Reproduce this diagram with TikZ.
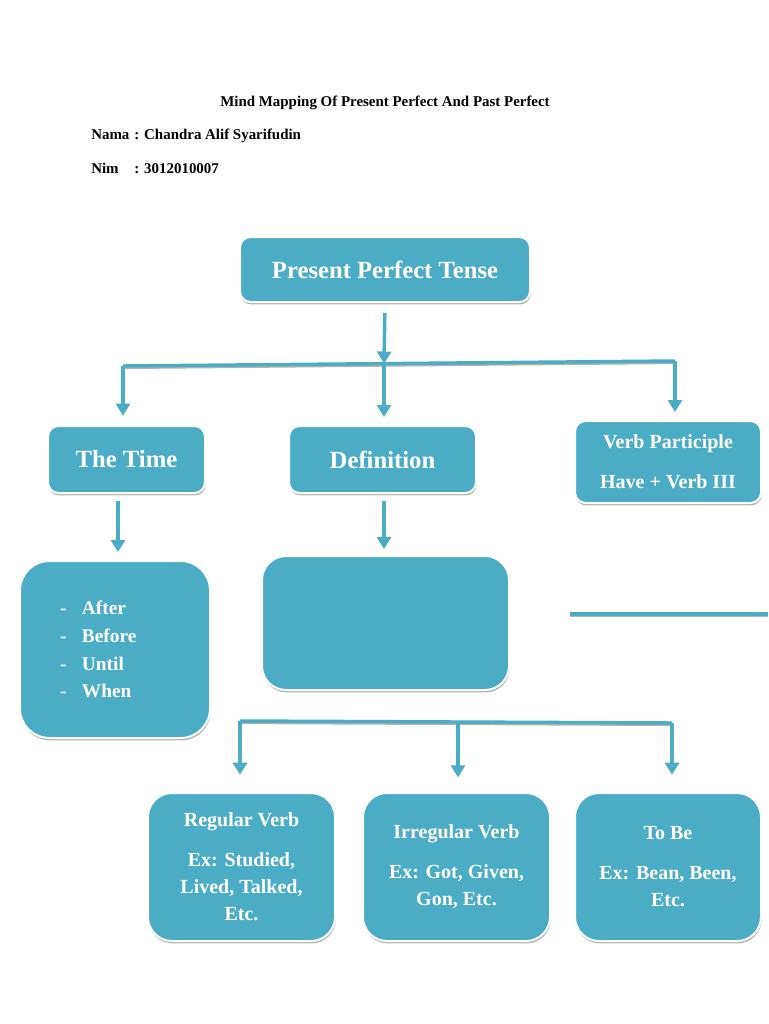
\documentclass[tikz,border=0pt]{standalone}
\usepackage{fontspec}
\setmainfont{Liberation Serif}
\definecolor{aqua}{RGB}{75,172,198}
\usepackage{tikz}
\usetikzlibrary{shadows, arrows.meta}
\newdimen\pxu \pxu=0.75pt
\newcommand{\dashitem}[1]{\hspace*{30pt}\makebox[16.5pt][l]{-}#1}

\tikzset{
  box/.style={draw=white, line width=1.5pt, fill=aqua, text=white, rounded corners=8pt,
    inner sep=0pt, align=center,
    drop shadow={shadow xshift=0.5pt, shadow yshift=-1.8pt, fill=black!60, opacity=0.5}},
  bigtext/.style={font=\fontsize{18.5}{22}\selectfont\bfseries},
  smalltext/.style={font=\fontsize{15}{20.25}\selectfont\bfseries},
  bar/.style={draw=aqua, line width=2.6pt,
    preaction={draw=black!30, line width=2.6pt, transform canvas={yshift=-1pt}}},
  arr/.style={draw=aqua, line width=2.6pt, -{Triangle[width=10.5pt,length=9pt]}},
  head/.style={font=\fontsize{11.2}{13}\selectfont\bfseries, inner sep=0pt}
}

\begin{document}
\begin{tikzpicture}[x=0.75pt, y=-0.75pt]
  % Page
  \fill[white] (0,0) rectangle (768,1024);
  \useasboundingbox (0,0) rectangle (768,1024);

  % Heading
  \node[head, anchor=base] (title) at (385,107) {Mind Mapping Of Present Perfect And Past Perfect};
  \node[head, anchor=base west] (nama) at (91,139) {Nama};
  \node[head, anchor=base west] (namav) at (134,139) {: Chandra Alif Syarifudin};
  \node[head, anchor=base west] (nim) at (91,173) {Nim};
  \node[head, anchor=base west] (nimv) at (134,173) {: 3012010007};

  % Boxes
  \node[box, bigtext, minimum width=290\pxu, minimum height=65\pxu] (ppt) at (385,269.5) {Present Perfect Tense};
  \node[box, bigtext, minimum width=157\pxu, minimum height=67\pxu] (time) at (126.5,459.5) {The Time};
  \node[box, bigtext, minimum width=187\pxu, minimum height=67\pxu] (def) at (382.5,459.5) {Definition};
  \node[box, smalltext, minimum width=186\pxu, minimum height=82\pxu] (vp) at (668,462) {Verb Participle\\[9.75pt] Have + Verb III};
  \node[box, font=\fontsize{14.5}{20.75}\selectfont\bfseries, rounded corners=22pt, text width=190\pxu,
    align=left, minimum height=177\pxu] (list) at (115,649.5)
    {\dashitem{After}\\ \dashitem{Before}\\ \dashitem{Until}\\ \dashitem{When}};
  \node[box, rounded corners=18pt, minimum width=247\pxu, minimum height=134\pxu] (empty) at (385.5,623) {};
  \node[box, smalltext, rounded corners=18pt, minimum width=187\pxu, minimum height=148\pxu] (reg) at (241.5,867)
    {Regular Verb\\[9.75pt] Ex: Studied,\\ Lived, Talked,\\ Etc.};
  \node[box, smalltext, rounded corners=18pt, minimum width=187\pxu, minimum height=148\pxu] (irr) at (456.5,867)
    {Irregular Verb\\[9.75pt] Ex: Got, Given,\\ Gon, Etc.};
  \node[box, smalltext, rounded corners=18pt, minimum width=186\pxu, minimum height=148\pxu] (tobe) at (668,867)
    {To Be\\[9.75pt] Ex: Bean, Been,\\ Etc.};

  % Upper branches
  \coordinate (tl) at (123,366);
  \coordinate (tc) at (384,363.5);
  \coordinate (tr) at (675,361);
  \draw[bar] (tl) -- (tr);
  \draw[arr, shorten <=7.5pt] (ppt.south) -- (tc);
  \draw[arr, shorten >=7pt] (tl) -- (tl |- time.north);
  \draw[arr, shorten >=6pt] (tc) -- (tc |- def.north);
  \draw[arr, shorten >=6pt] (tr) -- (tr |- vp.north);

  % Down to the lists
  \draw[arr, shorten <=5pt, shorten >=6pt] (time.south -| 118,0) -- (118,0 |- list.north);
  \draw[arr, shorten <=5pt, shorten >=4.5pt] (def.south -| 384,0) -- (384,0 |- empty.north);

  % Lower branches
  \coordinate (bl) at (240,721);
  \coordinate (bc) at (458,722);
  \coordinate (br) at (672,723);
  \draw[bar] (bl) -- (br);
  \draw[arr, shorten >=13pt] (bl) -- (bl |- reg.north);
  \draw[arr, shorten >=11pt] (bc) -- (bc |- irr.north);
  \draw[arr, shorten >=13pt] (br) -- (br |- tobe.north);

  % Loose line on the right
  \coordinate (s1) at (570,614);
  \coordinate (s2) at (768,614);
  \draw[bar] (s1) -- (s2);
\end{tikzpicture}
\end{document}
